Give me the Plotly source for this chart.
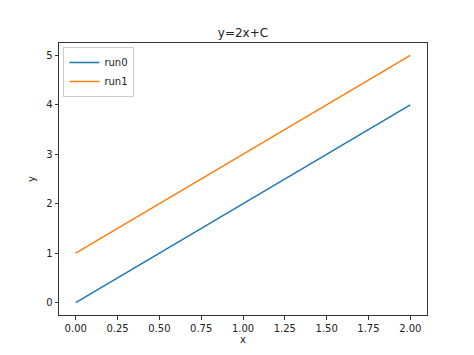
import plotly.graph_objects as go

x_vals = [0.0, 1.0, 2.0]
run0 = [0.0, 2.0, 4.0]
run1 = [1.0, 3.0, 5.0]
x_ticks = [0.0, 0.25, 0.5, 0.75, 1.0, 1.25, 1.5, 1.75, 2.0]
x_tick_labels = ["0.00", "0.25", "0.50", "0.75", "1.00", "1.25", "1.50", "1.75", "2.00"]
y_ticks = [0, 1, 2, 3, 4, 5]

fig = go.Figure()
fig.add_trace(go.Scatter(x=x_vals, y=run0, mode="lines", name="run0",
                         line=dict(color="#1f77b4", width=1.5)))
fig.add_trace(go.Scatter(x=x_vals, y=run1, mode="lines", name="run1",
                         line=dict(color="#ff7f0e", width=1.5)))

axis_common = dict(showline=True, linecolor="#333333", linewidth=1, mirror=True,
                   ticks="outside", ticklen=3.5, tickcolor="#333333", tickwidth=0.8,
                   showgrid=False, zeroline=False,
                   tickfont=dict(family="DejaVu Sans", size=10, color="#222222"))

W, H = 466, 347
fig.update_layout(
    width=W, height=H,
    margin=dict(l=51, r=47, t=35, b=40),
    paper_bgcolor="white", plot_bgcolor="white",
    font=dict(family="DejaVu Sans", size=10, color="#222222"),
    title=dict(text="y=2x+C", x=0.5, xanchor="center", y=1 - 25 / H, yanchor="middle",
               xref="paper", font=dict(size=12, color="#222222")),
    xaxis=dict(range=[-0.1, 2.1], tickvals=x_ticks, ticktext=x_tick_labels,
               title=dict(text="x", standoff=2, font=dict(size=10)), **axis_common),
    yaxis=dict(range=[-0.25, 5.25], tickvals=y_ticks,
               title=dict(text="y", standoff=8, font=dict(size=10)), **axis_common),
    legend=dict(x=0.012, y=0.985, xanchor="left", yanchor="top",
                bordercolor="#cccccc", borderwidth=1, bgcolor="rgba(255,255,255,0.8)",
                font=dict(size=10), tracegroupgap=0, itemwidth=30),
    showlegend=True,
)

fig.write_html("out.html")
